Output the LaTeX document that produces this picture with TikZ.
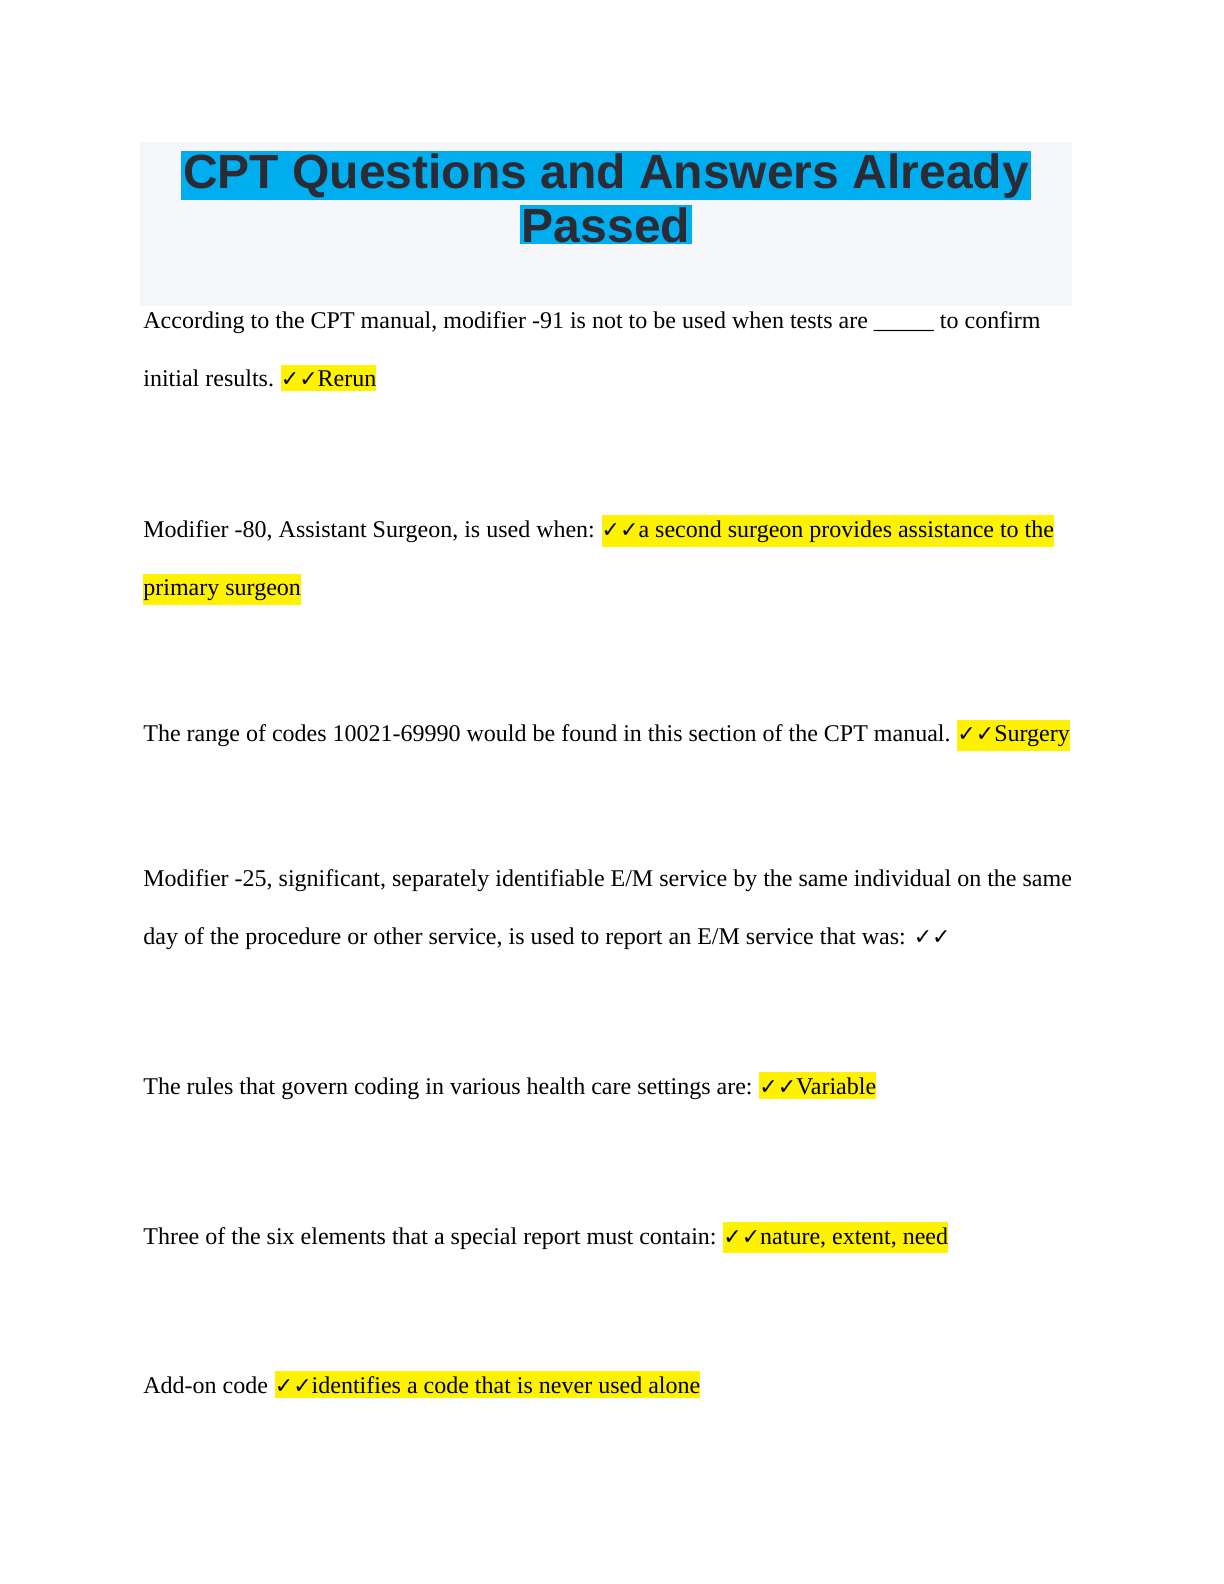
\documentclass[tikz,border=0pt]{standalone}
\usepackage{fontspec}
\setmainfont{Liberation Serif}
\newfontfamily\headfont{Liberation Sans}
\newfontfamily\symfont{DejaVu Sans}
\usetikzlibrary{positioning}
\definecolor{titlebg}{HTML}{F5F6FA}
\definecolor{titleink}{HTML}{2B2B36}
\newcommand{\ticks}{{\symfont\fontsize{11}{13}\selectfont ✓✓}}
\begin{document}
\begin{tikzpicture}[x=0.5pt,y=0.5pt,yscale=-1,
    body/.style={anchor=base west,inner sep=0pt,font=\fontsize{12}{14}\selectfont},
    answer/.style={body,fill=yellow,inner ysep=2.5pt},
    heading/.style={anchor=base,inner sep=1pt,fill=cyan,text=titleink,font=\headfont\bfseries\fontsize{24}{28}\selectfont}]
        \useasboundingbox (0,0) rectangle (1224,1584);

        %Title box
        \fill [titlebg] (140,142) rectangle (1072,306);
        \node [heading] (title1) at (606,188) {CPT Questions and Answers Already};
        \node [heading] (title2) at (606,242) {Passed};

        % Question 1
        \node [body] (q1a) at (143,328) {According to the CPT manual, modifier -91 is not to be used when tests are \_\_\_\_\_ to confirm};
        \node [body] (q1b) at (143,386) {initial results.};
        \node [answer] (a1) at ([xshift=3pt]q1b.base east) {\ticks Rerun};

        % Question 2
        \node [body] (q2) at (143,537) {Modifier -80, Assistant Surgeon, is used when:};
        \node [answer] (a2a) at ([xshift=3pt]q2.base east) {\ticks a second surgeon provides assistance to the};
        \node [answer] (a2b) at (143,595) {primary surgeon};

        % Question 3
        \node [body] (q3) at (143,741) {The range of codes 10021-69990 would be found in this section of the CPT manual.};
        \node [answer] (a3) at ([xshift=3pt]q3.base east) {\ticks Surgery};

        % Question 4
        \node [body] (q4a) at (143,886) {Modifier -25, significant, separately identifiable E/M service by the same individual on the same};
        \node [body] (q4b) at (143,944) {day of the procedure or other service, is used to report an E/M service that was: \ticks};

        % Question 5
        \node [body] (q5) at (143,1094) {The rules that govern coding in various health care settings are:};
        \node [answer] (a5) at ([xshift=3pt]q5.base east) {\ticks Variable};

        % Question 6
        \node [body] (q6) at (143,1244) {Three of the six elements that a special report must contain:};
        \node [answer] (a6) at ([xshift=3pt]q6.base east) {\ticks nature, extent, need};

        % Question 7
        \node [body] (q7) at (143,1393) {Add-on code};
        \node [answer] (a7) at ([xshift=3pt]q7.base east) {\ticks identifies a code that is never used alone};
\end{tikzpicture}
\end{document}
